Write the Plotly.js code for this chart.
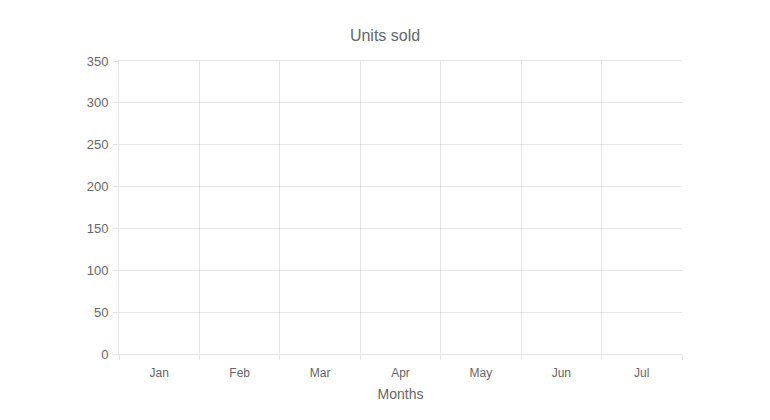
<!DOCTYPE html>
<html>
<head>
<meta charset="utf-8">
<script src="https://cdn.plot.ly/plotly-3.0.1.min.js"></script>
<style>
  html, body { margin: 0; padding: 0; background: #fff; }
  #chart { width: 770px; height: 420px; }
</style>
</head>
<body>
<div id="chart"></div>
<script>
// chart data (no bars are drawn in the reference)
const months = ['Jan', 'Feb', 'Mar', 'Apr', 'May', 'Jun', 'Jul'];
const units_sold = [null, null, null, null, null, null, null];
const y_ticks = [0, 50, 100, 150, 200, 250, 300, 350];

const grid_color = 'rgba(0,0,0,0.1)';
const text_color = '#666';
const font_family = '"Liberation Sans", Arial, sans-serif';

var units_trace = {
    x : months,
    y : units_sold,
    type : 'bar',
    name : 'Units sold',
    marker : { color: 'rgba(54,162,235,0.5)' },
    hoverinfo : 'skip'
};

var layout = {
    width : 770,
    height : 420,
    margin : { l: 119, r: 88, t: 61, b: 66 },
    paper_bgcolor : '#fff',
    plot_bgcolor : '#fff',
    showlegend : false,
    font : { family: font_family, color: text_color, size: 12 },
    title : {
        text : 'Units sold',
        font : { size: 16, color: text_color },
        x : 0.5,
        xanchor : 'center',
        y : 0.916,
        yanchor : 'middle'
    },
    xaxis : {
        type : 'category',
        categoryorder : 'array',
        categoryarray : months,
        range : [-0.5, months.length - 0.5],
        tickson : 'boundaries',
        showgrid : true,
        gridcolor : grid_color,
        gridwidth : 1,
        ticks : 'outside',
        ticklen : 5,
        tickcolor : grid_color,
        ticklabelstandoff : 8,
        showline : true,
        mirror : true,
        linecolor : grid_color,
        zeroline : false,
        tickfont : { size: 12, color: text_color },
        title : { text: 'Months', font: { size: 14, color: text_color }, standoff: 9 }
    },
    yaxis : {
        range : [0, 350],
        tickvals : y_ticks,
        showgrid : true,
        gridcolor : grid_color,
        gridwidth : 1,
        ticks : 'outside',
        ticklen : 5,
        tickcolor : grid_color,
        ticklabelstandoff : 2,
        showline : true,
        linecolor : grid_color,
        zeroline : false,
        tickfont : { size: 13, color: text_color }
    }
};

const target_div = document.getElementById('chart');
Plotly.newPlot(target_div, [units_trace], layout, { displayModeBar: false, staticPlot: true });
</script>
</body>
</html>
